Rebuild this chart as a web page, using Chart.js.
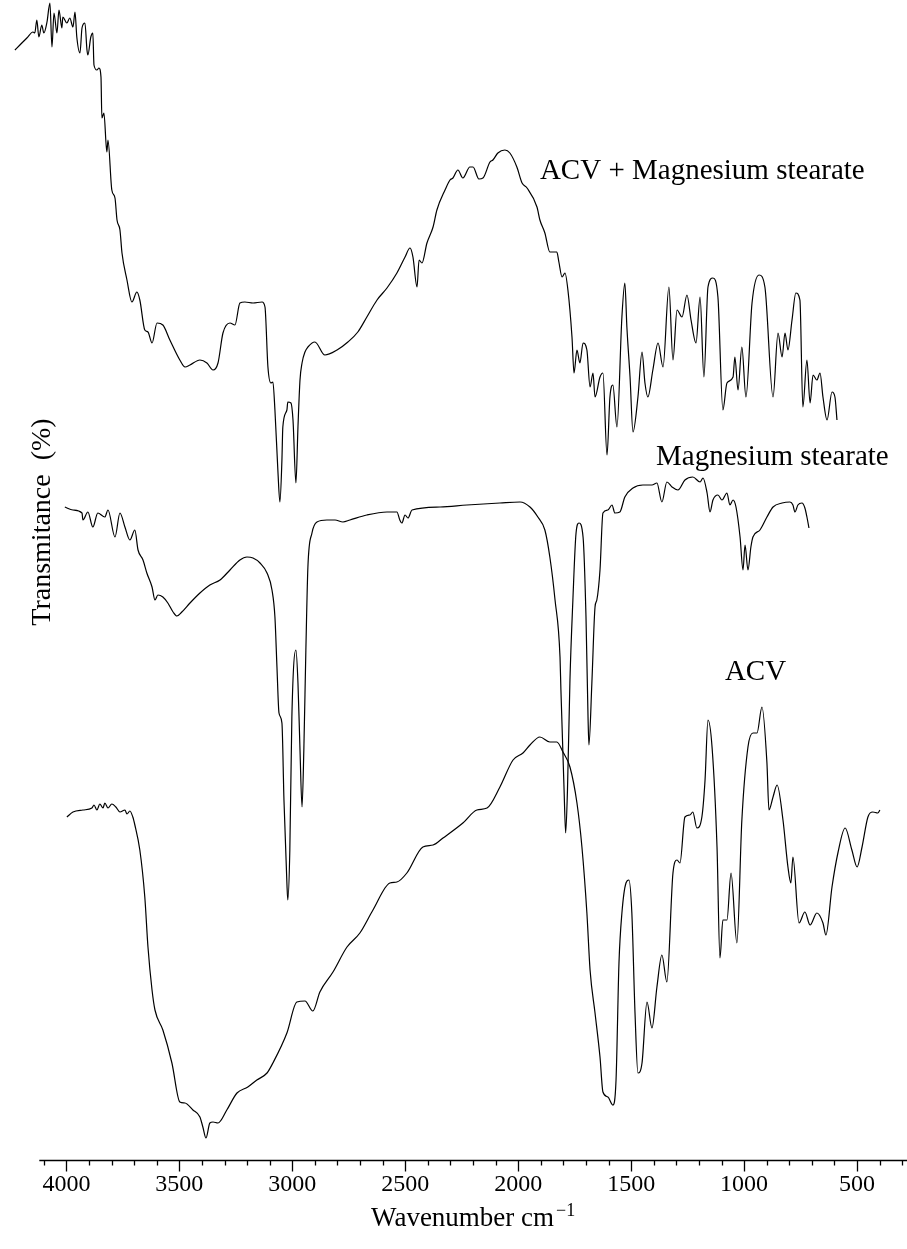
<!DOCTYPE html>
<html>
<head>
<meta charset="utf-8">
<script src="https://cdn.jsdelivr.net/npm/chart.js@4.4.1/dist/chart.umd.min.js"></script>
<style>
  html, body { margin: 0; padding: 0; background: #fff; }
  #wrap { width: 907px; height: 1249px; }
</style>
</head>
<body>
<div id="wrap"><canvas id="ftir" width="907" height="1249"></canvas></div>
<script>
// ACV + Magnesium stearate (upper trace)
const mixWavenumber = [
  4228, 4206, 4175, 4148, 4140, 4131, 4122, 4109, 4100, 4086,
  4073, 4064, 4055, 4042, 4033, 4020, 4016, 3998, 3985, 3971,
  3962, 3954, 3940, 3931, 3918, 3909, 3905, 3892, 3883, 3878,
  3865, 3856, 3847, 3843, 3834, 3821, 3816, 3799, 3785, 3776,
  3763, 3754, 3732, 3710, 3688, 3675, 3653, 3639, 3621, 3599,
  3573, 3542, 3498, 3475, 3453, 3409, 3378, 3351, 3329, 3307,
  3276, 3254, 3232, 3210, 3174, 3134, 3121, 3108, 3095, 3086,
  3077, 3064, 3055, 3046, 3042, 3024, 3020, 3006, 2997, 2984,
  2975, 2966, 2957, 2944, 2931, 2900, 2856, 2802, 2754, 2710,
  2670, 2625, 2581, 2537, 2501, 2479, 2466, 2448, 2439, 2426,
  2404, 2377, 2360, 2324, 2302, 2289, 2267, 2245, 2214, 2200,
  2174, 2156, 2125, 2112, 2090, 2059, 2037, 2006, 1983, 1961,
  1917, 1904, 1882, 1860, 1829, 1820, 1806, 1793, 1780, 1762,
  1753, 1740, 1727, 1713, 1696, 1682, 1669, 1660, 1638, 1625,
  1607, 1594, 1581, 1563, 1541, 1528, 1519, 1505, 1492, 1470,
  1452, 1439, 1426, 1404, 1381, 1359, 1333, 1315, 1297, 1275,
  1253, 1235, 1213, 1195, 1178, 1160, 1138, 1116, 1094, 1076,
  1049, 1041, 1027, 1010, 992, 965, 934, 908, 872, 850,
  832, 819, 806, 788, 771, 753, 740, 722, 708, 695,
  678, 664, 651, 633, 611, 598, 589
];
const mixTransmittance = [
  111.0, 111.5, 112.2, 112.8, 112.7, 114.0, 112.3, 113.5, 112.7, 113.8,
  115.7, 111.3, 114.7, 112.7, 115.0, 113.2, 114.3, 113.7, 114.2, 113.3,
  114.8, 112.3, 110.7, 113.2, 113.7, 111.0, 110.5, 112.3, 112.7, 109.5,
  109.0, 109.2, 108.3, 104.2, 104.7, 100.8, 102.0, 97.0, 96.2, 94.0,
  93.0, 90.7, 88.0, 85.8, 86.8, 86.0, 83.0, 82.8, 81.7, 83.7,
  83.5, 82.0, 80.0, 79.3, 79.5, 80.0, 79.7, 79.0, 79.7, 82.7,
  83.7, 83.5, 85.7, 85.8, 85.7, 85.8, 85.3, 79.3, 77.7, 77.8,
  75.0, 69.0, 65.8, 70.0, 73.3, 75.0, 75.8, 75.7, 74.0, 67.7,
  73.3, 78.0, 79.7, 80.8, 81.3, 81.8, 80.5, 81.0, 81.8, 82.8,
  84.3, 86.0, 87.2, 88.7, 90.3, 91.2, 90.3, 87.3, 90.0, 89.7,
  91.7, 93.3, 95.0, 97.0, 98.0, 98.2, 99.0, 98.2, 99.3, 99.3,
  98.1, 98.2, 99.8, 100.0, 100.7, 101.0, 100.7, 99.3, 97.7, 97.2,
  95.3, 94.0, 92.7, 90.8, 90.8, 89.8, 88.3, 88.7, 87.0, 82.3,
  78.7, 81.0, 79.7, 81.7, 81.0, 77.3, 78.7, 76.3, 78.3, 78.7,
  70.5, 76.3, 77.5, 73.3, 84.3, 87.7, 83.3, 78.3, 72.8, 76.3,
  80.8, 77.7, 76.3, 79.0, 81.7, 79.3, 87.3, 80.0, 85.0, 84.3,
  86.5, 84.0, 81.7, 86.3, 78.3, 87.3, 88.2, 86.3, 75.0, 77.7,
  78.3, 80.3, 77.0, 81.3, 76.3, 85.7, 88.5, 87.3, 76.3, 82.7,
  80.3, 82.7, 81.0, 84.0, 86.7, 86.0, 75.3, 80.0, 75.7, 78.5,
  78.0, 78.7, 76.3, 74.0, 76.8, 76.3, 74.0
];

// Magnesium stearate (middle trace)
const mgstWavenumber = [
  4007, 3971, 3931, 3927, 3905, 3883, 3861, 3830, 3816, 3785,
  3763, 3741, 3719, 3697, 3683, 3661, 3644, 3621, 3608, 3595,
  3573, 3551, 3528, 3511, 3489, 3453, 3409, 3365, 3320, 3276,
  3232, 3201, 3174, 3143, 3112, 3090, 3077, 3068, 3059, 3046,
  3037, 3024, 3020, 3011, 3002, 2984, 2975, 2966, 2957, 2949,
  2940, 2931, 2913, 2891, 2847, 2811, 2776, 2745, 2670, 2581,
  2537, 2524, 2515, 2501, 2488, 2470, 2346, 2227, 2081, 1992,
  1948, 1913, 1882, 1860, 1837, 1815, 1811, 1797, 1790, 1782,
  1771, 1758, 1744, 1731, 1713, 1700, 1691, 1687, 1674, 1660,
  1652, 1638, 1625, 1603, 1585, 1572, 1550, 1528, 1492, 1448,
  1408, 1386, 1364, 1342, 1319, 1293, 1262, 1227, 1195, 1182,
  1164, 1151, 1138, 1116, 1098, 1076, 1063, 1049, 1036, 1018,
  1005, 996, 983, 970, 961, 930, 899, 872, 832, 797,
  784, 775, 762, 744, 731, 722, 713
];
const mgstTransmittance = [
  65.3, 65.0, 64.7, 64.0, 64.8, 63.3, 64.7, 64.3, 65.0, 62.3,
  64.7, 63.3, 62.0, 63.0, 61.0, 60.0, 58.7, 57.3, 56.0, 56.5,
  56.3, 55.7, 54.8, 54.4, 54.8, 55.7, 56.7, 57.5, 58.0, 59.0,
  60.0, 60.3, 60.2, 59.7, 58.7, 57.0, 54.3, 49.3, 44.7, 43.7,
  36.0, 27.7, 26.0, 31.0, 44.3, 51.0, 47.7, 41.0, 35.3, 41.0,
  51.0, 59.3, 62.7, 63.8, 64.0, 64.0, 63.8, 64.0, 64.5, 64.8,
  64.8, 64.0, 63.7, 64.5, 64.2, 65.0, 65.3, 65.5, 65.7, 65.8,
  65.3, 64.3, 63.0, 60.3, 56.0, 50.3, 47.0, 37.0, 32.7, 37.0,
  48.0, 56.0, 62.7, 63.7, 62.3, 54.3, 44.3, 41.5, 47.7, 55.3,
  56.0, 59.0, 64.7, 65.0, 65.5, 64.7, 64.8, 66.3, 67.2, 67.5,
  67.5, 67.7, 65.8, 67.8, 67.3, 67.0, 68.0, 68.3, 67.8, 68.2,
  66.7, 64.8, 66.0, 66.5, 66.0, 66.7, 65.5, 66.0, 65.3, 62.3,
  59.0, 61.5, 59.0, 61.3, 62.3, 63.0, 64.3, 65.3, 65.7, 65.8,
  65.5, 64.8, 65.5, 65.7, 65.2, 64.3, 63.2
];

// ACV (lower trace)
const acvWavenumber = [
  3998, 3971, 3927, 3887, 3878, 3865, 3852, 3838, 3830, 3816,
  3799, 3781, 3763, 3741, 3732, 3719, 3706,
  3697, 3675, 3653, 3639, 3621, 3608, 3573, 3533, 3498, 3475,
  3440, 3409, 3396, 3382, 3365, 3351, 3329, 3290, 3245, 3197,
  3157, 3112, 3086, 3024, 2980, 2944, 2909, 2878, 2820, 2758,
  2701, 2643, 2568, 2537, 2493, 2422, 2377, 2333, 2245, 2183,
  2138, 2081, 2023, 1979, 1948, 1904, 1860, 1829, 1802, 1771,
  1740, 1718, 1696, 1682, 1660, 1638, 1625, 1603, 1581, 1567,
  1554, 1541, 1523, 1510, 1497, 1483, 1470, 1452, 1430, 1408,
  1386, 1364, 1342, 1315, 1297, 1284, 1262, 1240, 1227, 1209,
  1187, 1173, 1160, 1142, 1120, 1107, 1094, 1076, 1058, 1032,
  1010, 983, 961, 943, 921, 899, 890, 872, 854, 828,
  806, 793, 784, 757, 731, 708, 678, 651, 638, 611,
  584, 553, 523, 500, 478, 452, 430, 408, 399
];
const acvTransmittance = [
  34.3, 34.8, 35.0, 35.2, 35.5, 35.0, 35.6, 35.2, 35.7, 35.2,
  35.6, 35.3, 34.8, 35.0, 34.6, 34.9, 34.3,
  33.5, 31.0, 26.3, 21.3, 17.0, 15.0, 13.0, 9.7, 5.8, 5.7,
  5.0, 4.3, 3.3, 2.2, 3.7, 3.8, 3.7, 5.0, 6.7, 7.3,
  8.0, 8.7, 9.7, 12.7, 15.8, 15.9, 14.9, 16.8, 18.8, 21.3,
  22.7, 25.0, 27.7, 27.8, 28.7, 31.3, 31.5, 32.2, 33.7, 35.0,
  35.2, 37.3, 40.0, 40.7, 41.5, 42.3, 41.8, 41.8, 40.8, 39.3,
  35.7, 31.3, 24.7, 19.0, 14.7, 10.3, 6.8, 6.3, 5.5, 8.0,
  19.7, 24.7, 27.7, 28.0, 24.7, 14.7, 8.7, 9.7, 15.8, 13.2,
  17.3, 20.5, 17.8, 28.7, 30.0, 29.7, 34.3, 34.5, 34.8, 33.2,
  34.3, 38.0, 44.0, 41.3, 31.3, 20.2, 24.0, 24.0, 28.7, 21.7,
  34.0, 41.3, 42.7, 42.7, 45.3, 39.7, 35.0, 36.3, 37.5, 34.0,
  29.3, 27.7, 30.3, 23.7, 24.8, 23.5, 24.7, 23.7, 22.5, 27.3,
  30.8, 33.2, 31.0, 29.3, 31.3, 34.3, 34.8, 34.7, 35.0
];

const xTickValues = [4000, 3500, 3000, 2500, 2000, 1500, 1000, 500];
const seriesNames = ['ACV + Magnesium stearate', 'Magnesium stearate', 'ACV'];
// where each trace name sits (wavenumber, transmittance at text baseline)
const nameWavenumber = [1904, 1390, 1085];
const nameTransmittance = [98.1, 69.5, 48.0];

const axisStart = 4120;
const serif = '"Liberation Serif", "Times New Roman", serif';

function toPoints(xs, ys) {
  return xs.map((x, i) => ({ x: x, y: ys[i] }));
}

function lineSet(label, xs, ys) {
  return {
    label: label,
    data: toPoints(xs, ys),
    borderColor: '#000',
    borderWidth: 1.2,
    pointRadius: 0,
    cubicInterpolationMode: 'monotone',
    fill: false
  };
}

// axis line with major/minor ticks, axis titles and trace names
const decorations = {
  id: 'decorations',
  afterDraw(chart) {
    const { ctx, chartArea, scales } = chart;
    const x = scales.x, y = scales.y;
    const yb = Math.round(chartArea.bottom) + 0.5;
    ctx.save();
    ctx.strokeStyle = '#000';
    ctx.lineWidth = 1.3;
    ctx.beginPath();
    ctx.moveTo(x.getPixelForValue(axisStart), yb);
    ctx.lineTo(chartArea.right, yb);
    for (let v = 4100; v >= 300; v -= 100) {
      const px = Math.round(x.getPixelForValue(v)) + 0.5;
      const len = v % 500 === 0 ? 11 : 5;
      ctx.moveTo(px, yb);
      ctx.lineTo(px, yb + len);
    }
    ctx.stroke();

    ctx.fillStyle = '#000';
    ctx.textBaseline = 'alphabetic';

    // x title with superscript
    ctx.font = '27px ' + serif;
    const main = 'Wavenumber cm';
    const wMain = ctx.measureText(main).width;
    ctx.font = '18px ' + serif;
    const sup = '\u22121';
    const wSup = ctx.measureText(sup).width;
    const cx = (x.getPixelForValue(axisStart) + chartArea.right) / 2;
    const start = cx - (wMain + wSup + 2) / 2;
    ctx.font = '27px ' + serif;
    ctx.textAlign = 'left';
    ctx.fillText(main, start, chartArea.bottom + 66);
    ctx.font = '18px ' + serif;
    ctx.fillText(sup, start + wMain + 2, chartArea.bottom + 56);

    // y title
    ctx.save();
    ctx.translate(50, 522);
    ctx.rotate(-Math.PI / 2);
    ctx.font = '28px ' + serif;
    ctx.textAlign = 'center';
    ctx.fillText('Transmitance  (%)', 0, 0);
    ctx.restore();

    // trace names
    ctx.font = '29px ' + serif;
    ctx.textAlign = 'left';
    seriesNames.forEach((name, i) => {
      ctx.fillText(name, x.getPixelForValue(nameWavenumber[i]), y.getPixelForValue(nameTransmittance[i]));
    });
    ctx.restore();
  }
};

new Chart(document.getElementById('ftir'), {
  type: 'line',
  data: {
    datasets: [
      lineSet(seriesNames[0], mixWavenumber, mixTransmittance),
      lineSet(seriesNames[1], mgstWavenumber, mgstTransmittance),
      lineSet(seriesNames[2], acvWavenumber, acvTransmittance)
    ]
  },
  options: {
    responsive: false,
    animation: false,
    devicePixelRatio: 1,
    layout: { padding: 0 },
    plugins: {
      legend: { display: false },
      tooltip: { enabled: false }
    },
    scales: {
      x: {
        type: 'linear',
        reverse: true,
        min: 279,
        max: 4294,
        grid: { display: false, drawTicks: false },
        border: { display: false },
        ticks: {
          color: '#000',
          padding: 10,
          maxRotation: 0,
          autoSkip: false,
          font: { family: serif, size: 24 },
          callback: (v) => String(v)
        },
        afterBuildTicks: (scale) => {
          scale.ticks = xTickValues.map((v) => ({ value: v }));
        },
        afterFit: (scale) => {
          scale.height = 89;
        }
      },
      y: {
        type: 'linear',
        display: false,
        min: 0,
        max: 116
      }
    }
  },
  plugins: [decorations]
});
</script>
</body>
</html>
